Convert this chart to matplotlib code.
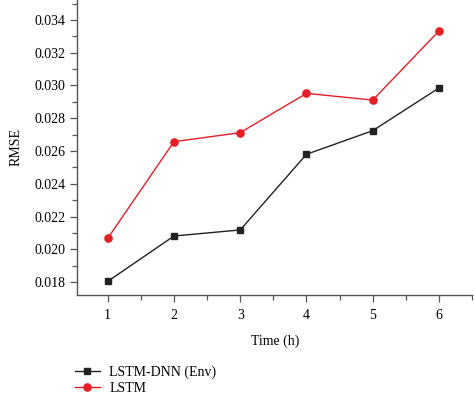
import matplotlib
matplotlib.use("Agg")
import matplotlib.pyplot as plt
from matplotlib.ticker import MultipleLocator, FormatStrFormatter

hours = [1, 2, 3, 4, 5, 6]
lstm_dnn = [0.01804, 0.02081, 0.02118, 0.02580, 0.02724, 0.02985]
lstm = [0.02067, 0.02657, 0.02712, 0.02952, 0.02911, 0.03333]
xtick_labels = ["1", "2", "3", "4", "5", "6"]

plt.rcParams['font.family'] = ['Liberation Serif', 'DejaVu Serif']
plt.rcParams['font.size'] = 10

fig = plt.figure(figsize=(4.74, 3.97), dpi=100)
ax = fig.add_axes([0.162, 0.257, 0.834, 0.743])

l1, = ax.plot(hours, lstm_dnn, color='#222222', lw=1.0, marker='s', markersize=4,
              label='LSTM-DNN (Env)')
l2, = ax.plot(hours, lstm, color='#e41f26', lw=1.0, marker='o', markersize=5.2,
              label='LSTM')

ax.set_xlim(0.533, 6.5)
ax.set_ylim(0.01721, 0.03522)
ax.set_xticks(hours)
ax.set_xticklabels(xtick_labels)
ax.xaxis.set_minor_locator(MultipleLocator(0.5))
ax.yaxis.set_major_locator(MultipleLocator(0.002))
ax.yaxis.set_minor_locator(MultipleLocator(0.001))
ax.yaxis.set_major_formatter(FormatStrFormatter('%.3f'))

for s in ['top', 'right']:
    ax.spines[s].set_visible(False)
for s in ['left', 'bottom']:
    ax.spines[s].set_color('#555555')
    ax.spines[s].set_linewidth(1.0)
ax.tick_params(which='major', direction='out', length=5, width=0.9, color='#555555',
               labelsize=10, pad=3)
ax.tick_params(which='minor', direction='out', length=3.5, width=0.9, color='#555555')
ax.tick_params(axis='x', which='major', pad=5)

ax.set_ylabel('RMSE', fontsize=10, labelpad=9)
fig.text(275/474, 1 - 341/397, 'Time (h)', ha='center', va='center', fontsize=10)

fig.legend(handles=[l1, l2], loc='upper left', bbox_to_anchor=(0.147, 1 - 360/397),
           frameon=False, fontsize=10, handlelength=1.75, handletextpad=0.7,
           labelspacing=0.2, borderaxespad=0)

fig.savefig('out.png', dpi=100)
